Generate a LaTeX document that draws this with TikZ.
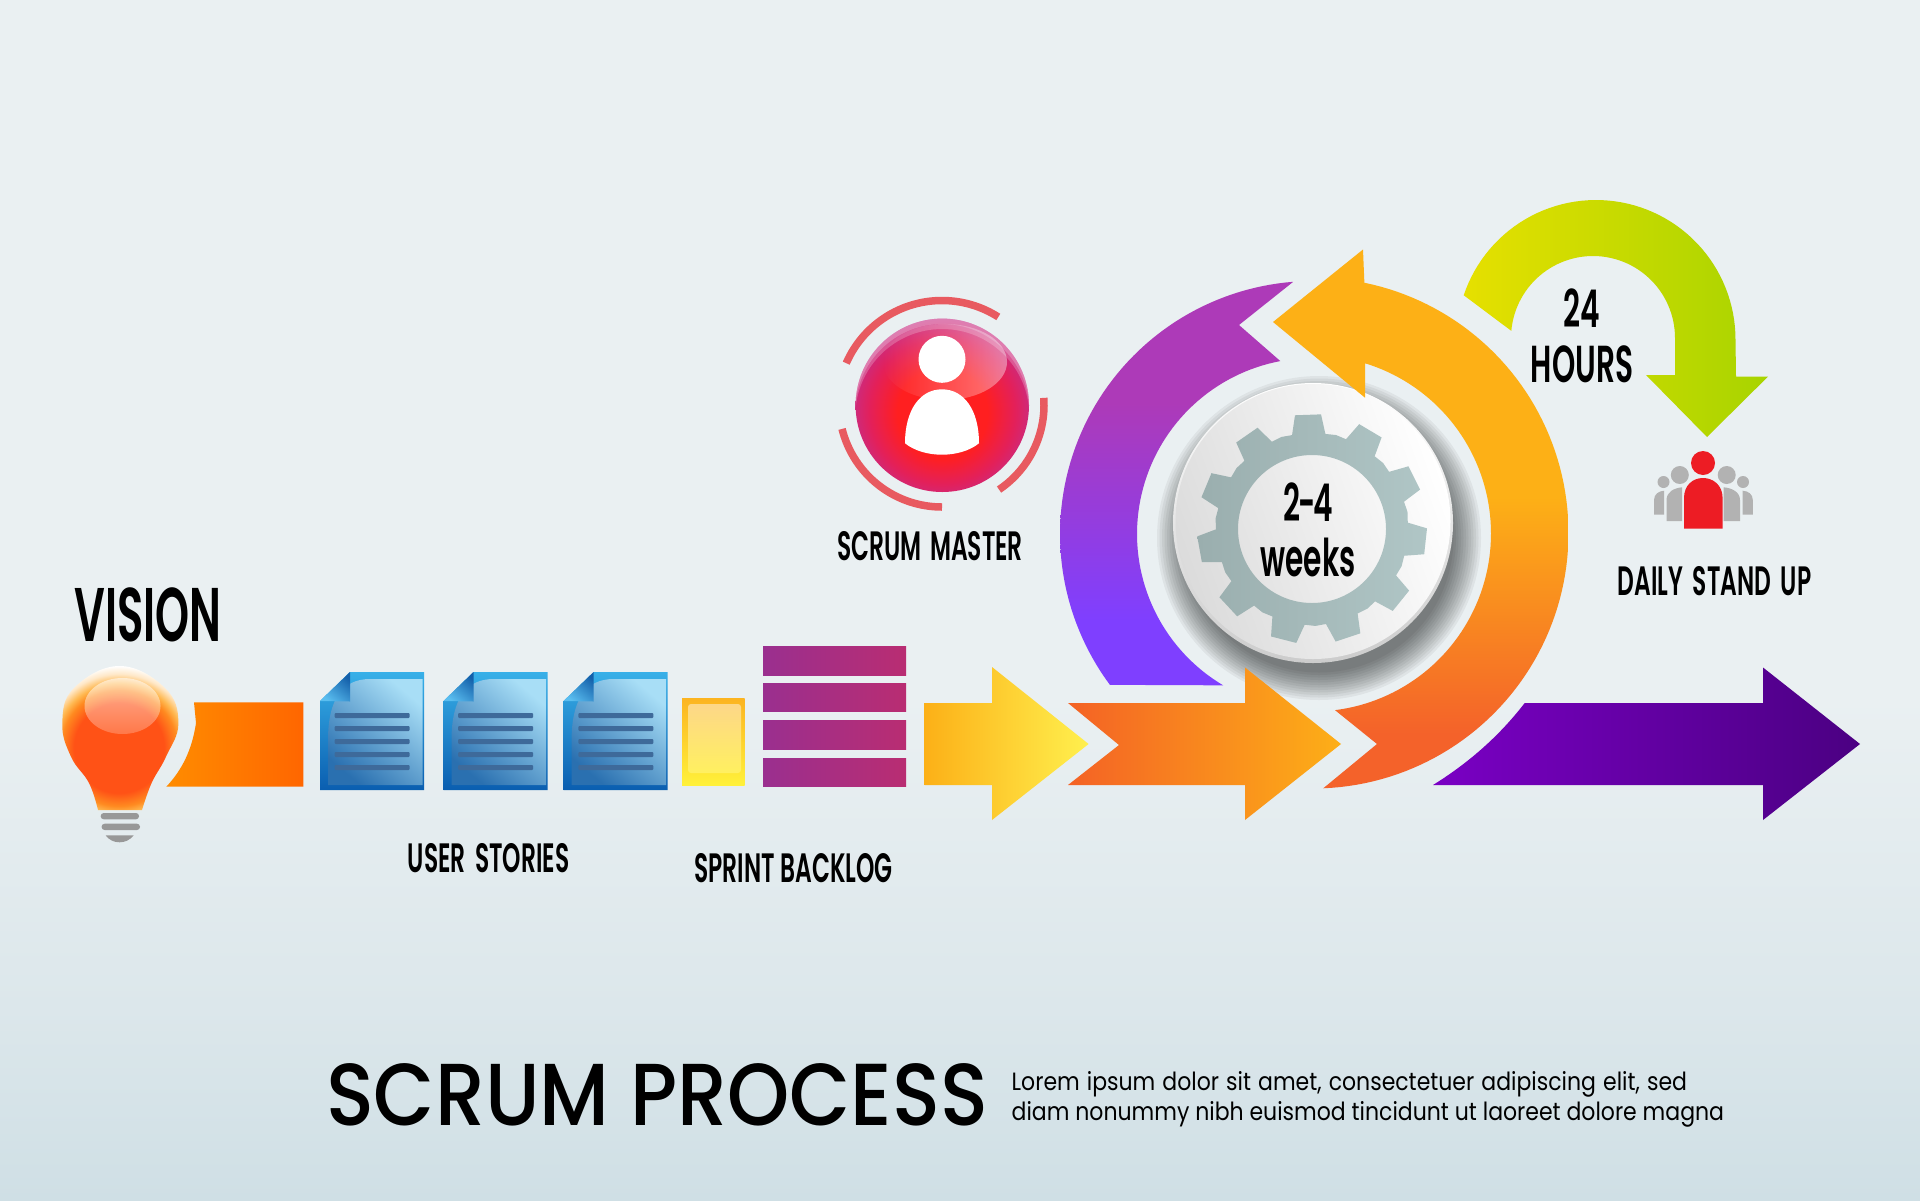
\documentclass[tikz,border=0pt]{standalone}
\usepackage{fontspec}
\setmainfont{Poppins}
\newfontfamily\condf[FakeStretch=0.57]{Poppins SemiBold}
\newfontfamily\titlef[FakeStretch=0.90]{Poppins Medium}
\newfontfamily\bodyf[FakeStretch=0.88]{Poppins}
\usetikzlibrary{fadings}
\definecolor{bgA}{HTML}{EAF0F2}
\definecolor{bgB}{HTML}{DCE7EB}
\definecolor{bgC}{HTML}{CFDFE5}
\definecolor{ringc}{HTML}{E85A60}
\pgfdeclareverticalshading{bgshade}{100bp}{color(0bp)=(bgC); color(25bp)=(bgC); color(33bp)=(bgB); color(46bp)=(bgA); color(100bp)=(bgA)}
\definecolor{oA}{HTML}{F4622A}\definecolor{oB}{HTML}{FDB016}
\pgfdeclareverticalshading{ringorange}{100bp}{color(0bp)=(oA); color(30bp)=(oA); color(52bp)=(oB); color(100bp)=(oB)}
\definecolor{pA}{HTML}{7F3FFF}\definecolor{pB}{HTML}{AD3AB8}
\pgfdeclareverticalshading{ringpurple}{100bp}{color(0bp)=(pA); color(33bp)=(pA); color(60bp)=(pB); color(100bp)=(pB)}
\definecolor{bulbA}{HTML}{FF5216}\definecolor{bulbB}{HTML}{FF8A20}\definecolor{bulbC}{HTML}{FFB850}\definecolor{bulbD}{HTML}{FFE8C8}
\pgfdeclareradialshading{bulbrad}{\pgfpoint{0bp}{0bp}}{color(0bp)=(bulbA); color(11.25bp)=(bulbA); color(14.5bp)=(bulbB); color(16.25bp)=(bulbC); color(18.5bp)=(bulbD); color(20.5bp)=(white); color(50bp)=(white)}
\definecolor{ballA}{HTML}{FF1F20}\definecolor{ballB}{HTML}{E3205A}\definecolor{ballC}{HTML}{C03090}
\pgfdeclareradialshading{ballrad}{\pgfpoint{0bp}{-3bp}}{color(0bp)=(ballA); color(13bp)=(ballA); color(21bp)=(ballB); color(28bp)=(ballC); color(50bp)=(ballC)}
\tikzfading[name=softsouth,top color=transparent!45,bottom color=transparent!78]
\tikzfading[name=softeast,left color=transparent!100,right color=transparent!60]
\tikzset{
  x=1pt,y=-1pt,
  cond/.style={text=black,inner sep=0pt,font=\condf\fontsize{#1}{#1}\selectfont},
}
\newcommand\docicon[1]{%
  \begin{scope}[shift={(#1,672)}]
    \shade[top color={rgb,255:red,56;green,176;blue,232},bottom color={rgb,255:red,10;green,94;blue,176}]
      (30,0) -- (104,0) -- (104,118) -- (0,118) -- (0,29) -- cycle;
    \shade[left color={rgb,255:red,42;green,112;blue,176},right color={rgb,255:red,168;green,222;blue,246},shading angle=140]
      (8,113) -- (8,68) .. controls (8,28) and (22,7) .. (50,7) -- (102.5,7) -- (102.5,113) -- cycle;
    \shade[left color={rgb,255:red,90;green,190;blue,240},right color={rgb,255:red,20;green,96;blue,170},shading angle=140]
      (30,0) -- (30,29.5) -- (0,29) -- cycle;
    \foreach \ly in {41,54,67,80,93}{
      \fill[rounded corners=1pt,fill={rgb,255:red,62;green,106;blue,154}] (14.7,\ly) rectangle (89.7,\ly+5);
    }
  \end{scope}}
\begin{document}
\begin{tikzpicture}
\useasboundingbox (0,0) rectangle (1920,1200);
\shade[shading=bgshade] (0,0) rectangle (1920,1200);

% ---- disc shadow and disc
\foreach \r in {162,159.5,...,134}{
  \fill[black,opacity=.05] (1319,538) circle[radius=\r];
}
\shade[top color=white,bottom color=gray!40!white] (1313,523) circle[radius=140];
\shade[left color=gray!28!white,right color=white,shading angle=110] (1313,521.5) circle[radius=137.5];

% ---- gear
\shade[left color={rgb,255:red,154;green,174;blue,174},right color={rgb,255:red,176;green,198;blue,198},even odd rule]
  ({1312+97*cos(92-16.36)},{529-97*sin(92-16.36)})
  \foreach \i in {0,...,10}{
    \pgfextra{\pgfmathsetmacro\a{92+\i*32.727}}
    -- ({1312+96*cos(\a-10)},{529-96*sin(\a-10)})
    -- ({1312+115*cos(\a-6.5)},{529-115*sin(\a-6.5)})
    -- ({1312+115*cos(\a+6.5)},{529-115*sin(\a+6.5)})
    -- ({1312+96*cos(\a+10)},{529-96*sin(\a+10)})
    -- ({1312+97*cos(\a+16.36)},{529-97*sin(\a+16.36)})
  } -- cycle
  (1312,529) circle[radius=74];

% ---- purple ring arrow
\shade[shading=ringpurple]
  (1293.2,281.8) -- (1239,325)
  -- plot[domain=100.7:239.3,samples=70] ({1313+176*cos(\x)},{534-176*sin(\x)})
  -- plot[domain=216.6:94.5,samples=70] ({1313+253*cos(\x)},{534-253*sin(\x)})
  -- cycle;

% ---- orange ring arrow
\shade[shading=ringorange]
  (1273,322) -- (1363,249.5)
  -- plot[domain=78.4:-87.7,samples=90] ({1313+255.5*cos(\x)},{533-255.5*sin(\x)})
  -- (1377,744)
  -- plot[domain=-82.9:73,samples=80] ({1313+178*cos(\x)},{533.5-178*sin(\x)})
  -- (1365,397.7) -- cycle;

% ---- straight arrows
\shade[left color={rgb,255:red,252;green,176;blue,23},right color={rgb,255:red,255;green,240;blue,78}]
  (924.5,703) -- (992,703) -- (992,667) -- (1088.6,744) -- (992,820) -- (992,785) -- (924.5,785) -- cycle;
\shade[left color={rgb,255:red,244;green,98;blue,37},right color={rgb,255:red,253;green,175;blue,23}]
  (1068,703) -- (1245,703) -- (1245,667.5) -- (1341,744) -- (1245,820) -- (1245,785) -- (1068,785) -- (1119,745) -- cycle;
\shade[left color={rgb,255:red,122;green,0;blue,196},right color={rgb,255:red,75;green,0;blue,130}]
  (1433,785) .. controls (1470,762) and (1500,735) .. (1524.7,703) -- (1763,703) -- (1763,667.5) -- (1860,744) -- (1763,820) -- (1763,785) -- cycle;

% ---- green arrow
\shade[left color={rgb,255:red,230;green,224;blue,0},right color={rgb,255:red,168;green,212;blue,0}]
  plot[domain=161.5:0,samples=60] ({1596+139.5*cos(\x)},{339.5-139.5*sin(\x)})
  -- (1736,376.6) -- (1768,376.6) -- (1707,437) -- (1646,375) -- (1675,375)
  -- plot[domain=0:175,samples=60] ({1593+82*cos(\x)},{338-82*sin(\x)})
  -- cycle;

% ---- people
\fill[gray!60!white] (1654,514.7) -- (1654,500) .. controls (1654,494) and (1659,491) .. (1664.2,490.7) -- (1664.2,514.7) -- cycle;
\fill[gray!60!white] (1752.8,514.7) -- (1752.8,500) .. controls (1752.8,494) and (1748,491) .. (1742.6,490.7) -- (1742.6,514.7) -- cycle;
\fill[gray!60!white] (1666.5,521) -- (1666.5,500) .. controls (1666.5,492) and (1674,488) .. (1682,487.3) -- (1682,521) -- cycle;
\fill[gray!60!white] (1740,521) -- (1740,500) .. controls (1740,492) and (1732,488) .. (1723.7,487.3) -- (1723.7,521) -- cycle;
\fill[gray!60!white] (1663.5,482) circle[radius=6] (1743,482) circle[radius=6] (1679.8,475) circle[radius=9] (1726.7,475) circle[radius=9];
\fill[fill={rgb,255:red,237;green,28;blue,36}] (1684,528.6) -- (1684,498) .. controls (1684,485) and (1693,478) .. (1703,478) .. controls (1713,478) and (1722.6,485) .. (1722.6,498) -- (1722.6,528.6) -- cycle;
\fill[fill={rgb,255:red,237;green,28;blue,36}] (1703,463) circle[radius=12];

% ---- bulb
\begin{scope}
  \clip plot[smooth,tension=.7] coordinates {(98,810) (89,783) (71,756.7) (62.3,723) (74,688) (119.5,666) (165,688) (178.4,723) (166,756.7) (151.6,783) (142,810)} -- cycle;
  \shade[shading=bulbrad] (119,748) circle[radius=100];
\end{scope}
\fill[white,path fading=softsouth] (122.5,706) ellipse[x radius=38,y radius=28];
\fill[gray!65!black!60!white,rounded corners=3pt] (100.7,813) rectangle (139,819.3);
\fill[gray!65!black!60!white,rounded corners=3pt] (101.6,823.7) rectangle (140,830);
\fill[gray!65!black!60!white] (105.6,835.3) -- (133.7,835.3) .. controls (130,840) and (125,842.3) .. (119.6,842.3) .. controls (114,842.3) and (109,840) .. (105.6,835.3) -- cycle;

% ---- orange tail
\shade[left color={rgb,255:red,255;green,140;blue,0},right color={rgb,255:red,255;green,102;blue,0}]
  (194,702.3) -- (303.4,702.3) -- (303.4,786.7) -- (166.3,786.7)
  .. controls (182,770) and (192,750) .. (196,723) -- cycle;

% ---- documents
\docicon{320}
\docicon{443.5}
\docicon{563.6}

% ---- sticky
\shade[top color={rgb,255:red,252;green,180;blue,33},bottom color={rgb,255:red,255;green,241;blue,58}] (682,698) rectangle (744.5,785);
\shade[top color={rgb,255:red,253;green,215;blue,136},bottom color={rgb,255:red,255;green,240;blue,96},rounded corners=3pt] (688,704) rectangle (741,773);

% ---- backlog
\foreach \ya/\yb in {646.5/675,683/711.5,720/749.5,758/786}{
  \shade[left color={rgb,255:red,154;green,47;blue,143},right color={rgb,255:red,185;green,45;blue,114}] (763,\ya) rectangle (906,\yb);
}

% ---- scrum master ball
\foreach \sa/\sb/\rr/\cy in {156.4/57.4/104.5/405,194/270/103/404,4/-56/102/405}{
  \draw[ringc,line width=7.5pt] plot[domain=\sa:\sb,samples=40,smooth] ({942+\rr*cos(\x)},{\cy-\rr*sin(\x)});
}
\shade[shading=ballrad] (942.3,405.3) circle[radius=86.7];
\begin{scope}
  \clip (942.3,405.3) circle[radius=86.7];
  \fill[white,opacity=.22,even odd rule] (840,300) rectangle (1045,510) (942.3,411) circle[radius=87];
  \fill[white,opacity=.22,even odd rule] (840,300) rectangle (1045,510) (942.3,416) circle[radius=87];
  \fill[white,path fading=softeast] (945,362) ellipse[x radius=62,y radius=38];
\end{scope}
\fill[white] (942,359.3) circle[radius=23.5];
\fill[white] (905,443.3) .. controls (905,410) and (920,389.3) .. (942,389.3) .. controls (964,389.3) and (979,410) .. (979,443.3) .. controls (960,458.5) and (924,458.5) .. (905,443.3) -- cycle;

% ---- labels
\node[cond=76] (vision) at (148,615) {VISION};
\node[cond=41] (stories) at (488.6,858) {USER\kern4pt\ STORIES};
\node[cond=41] (backlog) at (793.5,868) {SPRINT BACKLOG};
\node[cond=41] (master) at (930,546) {SCRUM\kern3pt\ MASTER};
\node[cond=41] (standup) at (1714.5,581) {DAILY\kern4pt\ STAND\kern4pt\ UP};
\node[cond=52] (tfour) at (1582,308) {24};
\node[cond=52] (hours) at (1582,364) {HOURS};
\node[cond=52] (range) at (1308,502) {2\kern-2pt-\kern-2pt4};
\node[cond=52] (weeks) at (1308,557) {weeks};
\node[inner sep=0pt,font=\titlef\fontsize{88}{88}\selectfont,text=black] (title) at (657,1095) {SCRUM PROCESS};
\node[inner sep=0pt,anchor=west,align=left,font=\bodyf\fontsize{25}{30}\selectfont,text=black] (lorem) at (1011.5,1099) {{\spaceskip=\dimexpr\fontdimen2\font+1.2pt\relax Lorem ipsum dolor sit amet, consectetuer adipiscing elit, sed}\\diam nonummy nibh euismod tincidunt ut laoreet dolore magna};
\end{tikzpicture}
\end{document}
